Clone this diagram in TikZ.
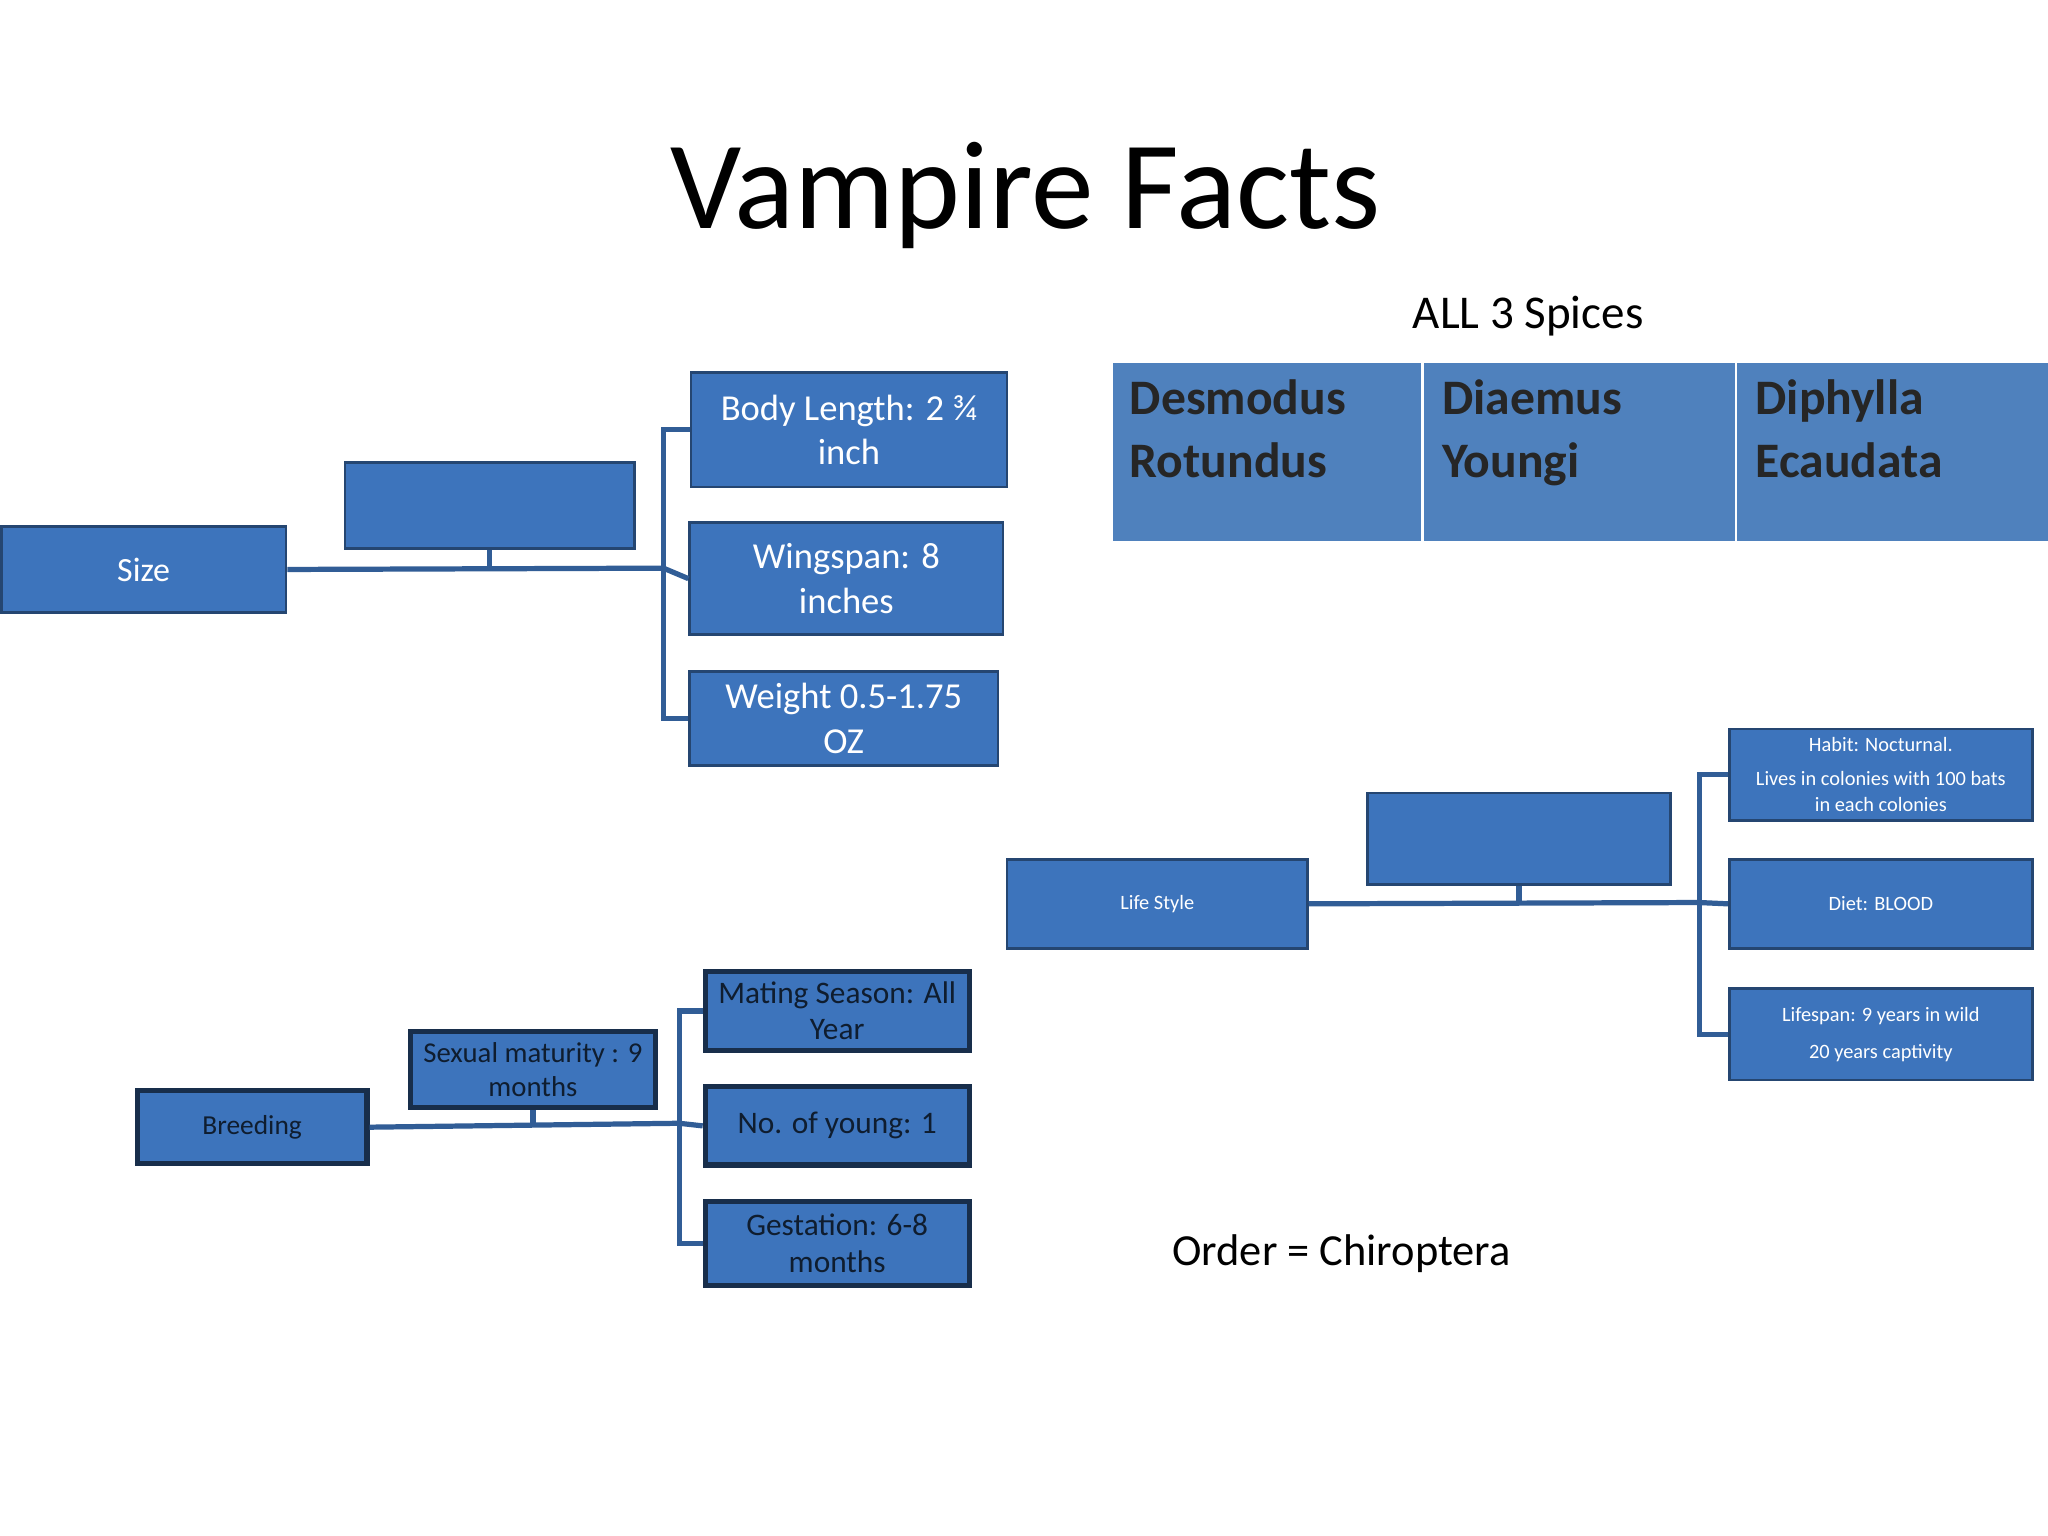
\documentclass[tikz,border=0pt]{standalone}
\usepackage{fontspec}
\setmainfont{Carlito}
\begin{document}
\begin{tikzpicture}[x=0.5pt,y=-0.5pt,
  box/.style={draw=boxblue!60!black,line width=1pt,fill=boxblue,text=white,align=center,inner sep=0pt,anchor=north west},
  dbox/.style={box,draw=boxblue!40!black,line width=2pt,text=boxblue!25!black},
  conn/.style={draw=boxblue!80!black,line width=2pt},
  cell/.style={fill=cellblue,draw=white,line width=1pt,anchor=north west,inner sep=0pt,minimum height=69pt,font=\fontsize{19}{24}\selectfont\bfseries,text=black!85}]
\definecolor{boxblue}{HTML}{3D74BC}
\definecolor{cellblue}{HTML}{4F81BD}
\useasboundingbox[fill=white] (0,0) rectangle (1568,1176);
\node[font=\fontsize{48}{56}\selectfont] (title) at (785,150) {Vampire Facts};
\node[font=\fontsize{18}{22}\selectfont] (all) at (1170,242) {ALL 3 Spices};
% table
\node[cell,minimum width=119pt] (c1) at (850,276) {};
\node[cell,minimum width=120pt] (c2) at (1088,276) {};
\node[cell,minimum width=120pt] (c3) at (1328,276) {};
\node[anchor=north west,align=left,font=\fontsize{19}{24}\selectfont\bfseries,text=black!85] at (858,284) {Desmodus\\Rotundus};
\node[anchor=north west,align=left,font=\fontsize{19}{24}\selectfont\bfseries,text=black!85] at (1097,284) {Diaemus\\Youngi};
\node[anchor=north west,align=left,font=\fontsize{19}{24}\selectfont\bfseries,text=black!85] at (1337,284) {Diphylla\\Ecaudata};
% size tree
\begin{scope}[every node/.append style={font=\fontsize{14}{17}\selectfont}]
\node[box,minimum width=109pt,minimum height=33pt,font=\fontsize{13}{16}\selectfont] (size) at (0,402) {Size};
\node[box,minimum width=111pt,minimum height=33pt] (sb) at (263,353) {};
\node[box,minimum width=121pt,minimum height=44pt] (body) at (528,284) {Body Length: 2 ¾\\inch};
\node[box,minimum width=120pt,minimum height=43pt] (wing) at (527,399) {Wingspan: 8\\inches};
\node[box,minimum width=118pt,minimum height=36pt] (wt) at (527,513) {Weight 0.5-1.75\\OZ};
\end{scope}
\coordinate (s1) at (508,435);
\draw[conn] (size.east) -- (s1);
\draw[conn] (sb.south) -- (sb.south |- s1);
\draw[conn] (body.west) -| (s1) |- (wt.west);
\draw[conn] (s1) -- (wing.west);
% life style
\begin{scope}[every node/.append style={font=\fontsize{7.8}{10}\selectfont}]
\node[box,minimum width=115pt,minimum height=34pt] (life) at (770,657) {Life Style};
\node[box,minimum width=116pt,minimum height=35pt] (lb) at (1046,606) {};
\node[box,minimum width=116pt,minimum height=35pt] (hab) at (1323,557) {Habit: Nocturnal.\\[3pt]Lives in colonies with 100 bats\\in each colonies};
\node[box,minimum width=116pt,minimum height=34pt] (diet) at (1323,657) {Diet: BLOOD};
\node[box,minimum width=116pt,minimum height=35pt] (lsp) at (1323,756) {Lifespan: 9 years in wild\\[4pt]20 years captivity};
\end{scope}
\coordinate (l1) at (1301,691);
\draw[conn] (life.east) -- (l1);
\draw[conn] (lb.south) -- (lb.south |- l1);
\draw[conn] (hab.west) -| (l1) |- (lsp.west);
\draw[conn] (l1) -- (diet.west);
% breeding
\begin{scope}[every node/.append style={font=\fontsize{12}{14}\selectfont}]
\node[dbox,minimum width=88pt,minimum height=28pt,font=\fontsize{10.5}{13}\selectfont] (br) at (103,833) {Breeding};
\node[dbox,minimum width=94pt,minimum height=29pt,font=\fontsize{11}{13}\selectfont] (sm) at (312,788) {Sexual maturity : 9\\months};
\node[dbox,minimum width=101pt,minimum height=30pt] (mate) at (538,742) {Mating Season: All\\Year};
\node[dbox,minimum width=101pt,minimum height=30pt] (young) at (538,830) {No. of young: 1};
\node[dbox,minimum width=101pt,minimum height=32pt] (gest) at (538,918) {Gestation: 6-8\\months};
\end{scope}
\coordinate (b1) at (520,860);
\draw[conn] (br.east) -- (b1);
\draw[conn] (sm.south) -- (sm.south |- b1);
\draw[conn] (mate.west) -| (b1) |- (gest.west);
\draw[conn] (b1) -- (young.west);
\node[font=\fontsize{17}{20}\selectfont] (order) at (1027,960) {Order = Chiroptera};
\end{tikzpicture}
\end{document}
